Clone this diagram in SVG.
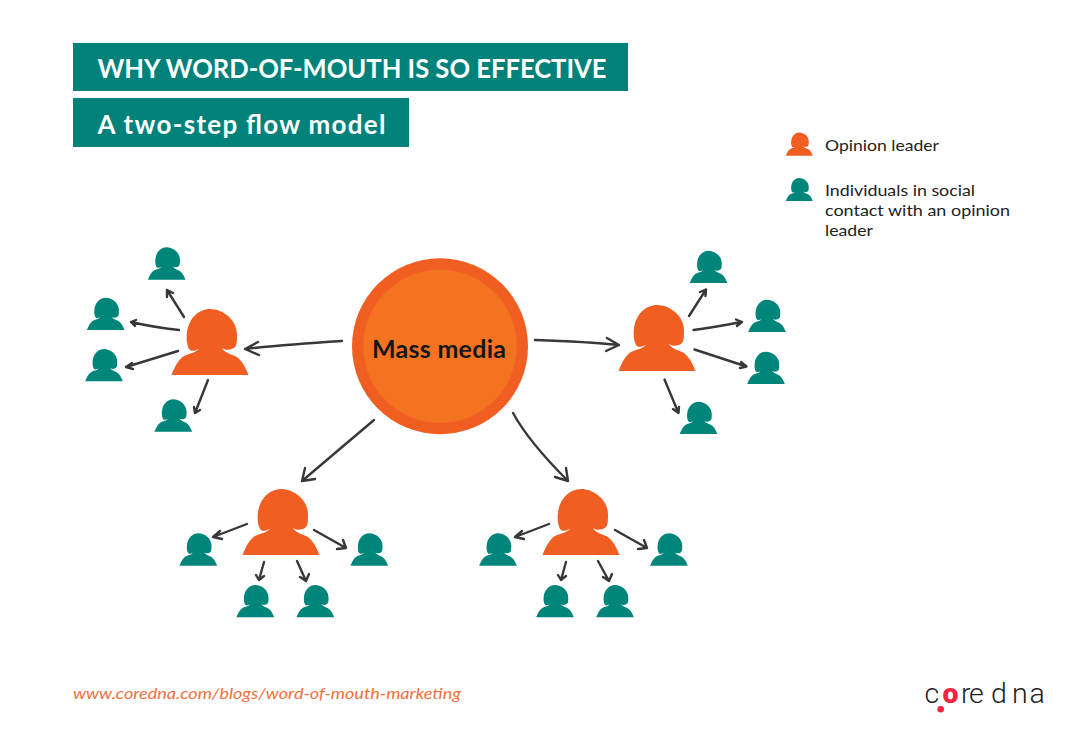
<svg xmlns="http://www.w3.org/2000/svg" xmlns:xlink="http://www.w3.org/1999/xlink" width="1080" height="735" viewBox="0 0 1080 735">
<style>
text{font-family:"Lato","Liberation Sans",sans-serif}
.banner{fill:#00827a}
.title{fill:#fff;font-weight:700;font-size:26px}
.leg{fill:#222;font-size:16px}
.o{fill:#f15e22}
.t{fill:#00857a}
.con path{fill:none;stroke:#383838;stroke-width:2.4;stroke-linecap:round;stroke-linejoin:round}
</style>
<defs>
<path id="person" d="M-38.500 0C-35-9-31-16-26-19C-20-22-15-22-11-26C-14-25-18-23-20-25C-23-28-24-36-23-43C-21-57-11-66 0-66C13-66 27-55 27-41C27-35 27-30 25-28C22-25 16-24 12-27C14-23 20-21 25-19C31-16 35-9 38.500 0Z"/>
</defs>
<rect width="1080" height="735" fill="#fff"/>
<g id="title1"><rect class="banner" x="73" y="43" width="555" height="48"/><text class="title" x="97.500" y="77.500" textLength="509" lengthAdjust="spacingAndGlyphs">WHY WORD-OF-MOUTH IS SO EFFECTIVE</text></g>
<g id="title2"><rect class="banner" x="73" y="98" width="336" height="49"/><text class="title" x="97.500" y="133.500" textLength="288" lengthAdjust="spacing">A two-step flow model</text></g>
<g id="legend">
<use xlink:href="#person" href="#person" class="o" transform="translate(799.300 155.700) scale(.35)"/>
<text class="leg" x="825" y="150.500" textLength="114" lengthAdjust="spacingAndGlyphs">Opinion leader</text>
<use xlink:href="#person" href="#person" class="t" transform="translate(799.300 201) scale(.35)"/>
<text class="leg" x="825" y="195.500" textLength="150" lengthAdjust="spacingAndGlyphs">Individuals in social</text>
<text class="leg" x="825" y="215.500" textLength="185" lengthAdjust="spacingAndGlyphs">contact with an opinion</text>
<text class="leg" x="825" y="235.500" textLength="48" lengthAdjust="spacingAndGlyphs">leader</text>
</g>
<g id="mass-media"><circle cx="440" cy="346.300" r="88" fill="#f15e22"/><circle cx="440" cy="346.300" r="76.700" fill="#f37321"/><text x="372" y="357.500" font-size="25" font-weight="700" fill="#14181c" textLength="134" lengthAdjust="spacing">Mass media</text></g>
<g id="leader-left"><use xlink:href="#person" href="#person" class="o" transform="translate(210 375)"/></g>
<g id="leader-right"><use xlink:href="#person" href="#person" class="o" transform="translate(657 371)"/></g>
<g id="leader-bl"><use xlink:href="#person" href="#person" class="o" transform="translate(281 555)"/></g>
<g id="leader-br"><use xlink:href="#person" href="#person" class="o" transform="translate(581 555)"/></g>
<g id="ind-l1"><use xlink:href="#person" href="#person" class="t" transform="translate(166.700 279.700) scale(.49)"/></g>
<g id="ind-l2"><use xlink:href="#person" href="#person" class="t" transform="translate(105.700 330) scale(.49)"/></g>
<g id="ind-l3"><use xlink:href="#person" href="#person" class="t" transform="translate(104 381.300) scale(.49)"/></g>
<g id="ind-l4"><use xlink:href="#person" href="#person" class="t" transform="translate(173.300 431.700) scale(.49)"/></g>
<g id="ind-r1"><use xlink:href="#person" href="#person" class="t" transform="translate(708.500 283) scale(.49)"/></g>
<g id="ind-r2"><use xlink:href="#person" href="#person" class="t" transform="translate(767 332) scale(.49)"/></g>
<g id="ind-r3"><use xlink:href="#person" href="#person" class="t" transform="translate(766 384) scale(.49)"/></g>
<g id="ind-r4"><use xlink:href="#person" href="#person" class="t" transform="translate(698.500 434) scale(.49)"/></g>
<g id="ind-b1"><use xlink:href="#person" href="#person" class="t" transform="translate(198.300 565.700) scale(.49)"/></g>
<g id="ind-b2"><use xlink:href="#person" href="#person" class="t" transform="translate(369.300 565.700) scale(.49)"/></g>
<g id="ind-b3"><use xlink:href="#person" href="#person" class="t" transform="translate(255.300 617.300) scale(.49)"/></g>
<g id="ind-b4"><use xlink:href="#person" href="#person" class="t" transform="translate(315.300 617.300) scale(.49)"/></g>
<g id="ind-c1"><use xlink:href="#person" href="#person" class="t" transform="translate(498 565.700) scale(.49)"/></g>
<g id="ind-c2"><use xlink:href="#person" href="#person" class="t" transform="translate(669 565.700) scale(.49)"/></g>
<g id="ind-c3"><use xlink:href="#person" href="#person" class="t" transform="translate(555 617.300) scale(.49)"/></g>
<g id="ind-c4"><use xlink:href="#person" href="#person" class="t" transform="translate(615 617.300) scale(.49)"/></g>
<g id="connectors" class="con">
<path d="M342 341C310 343 280 345 245 349M258 342L245 349L259 355"/>
<path d="M535 340C565 341 590 342 619 345M607 338L619 345L606 351"/>
<path d="M374 420L302 481M305 468L302 481L315 479"/>
<path d="M513 413C525 435 545 458 568 481M566 468L568 481L555 477"/>
<path d="M184 317L167 290M167 297L167 290L173 293"/>
<path d="M179 330C160 328 148 326 131 322M136 320L131 322L135 326"/>
<path d="M178 351L126 367M132 363L126 367L133 369"/>
<path d="M208 380L195 413M194 407L195 413L200 410"/>
<path d="M689 316L706 289.500M700 292L706 289.500L705.500 296"/>
<path d="M693.500 330C710 328 725 325 742 322M736 319.500L742 322L737 326"/>
<path d="M694.500 349.500L746.500 366.500M741 362L746.500 366.500L740 368"/>
<path d="M664.500 379.500L678.500 413M679 407L678.500 413L673 409"/>
<path d="M247 524L213 537M220 531L213 537L222 539"/>
<path d="M314 530L346 548M343 540L346 548L337 549"/>
<path d="M264 562L259 580M256 575L259 580L264 576"/>
<path d="M297 561L306 581M300 577L306 581L309 574"/>
<path d="M549 524L515 537M522 531L515 537L524 539"/>
<path d="M615 530L647 548M644 540L647 548L638 549"/>
<path d="M566 562L561 580M558 575L561 580L566 576"/>
<path d="M598 561L609 581M603 577L609 581L612 574"/>
</g>
<text id="url" x="73" y="699" font-size="16" font-style="italic" fill="#f2703c" textLength="388" lengthAdjust="spacingAndGlyphs">www.coredna.com/blogs/word-of-mouth-marketing</text>
<g id="logo"><circle cx="940.700" cy="709.300" r="3.300" fill="#f5243f"/><text x="924.500 942.500 961 969 985 991 1012 1029.500" y="702.700" font-size="28.500" font-weight="300" fill="#222" style="font-family:Roboto,'Liberation Sans',sans-serif">c<tspan fill="#f5243f" font-weight="900">o</tspan>re dna</text></g>
</svg>
